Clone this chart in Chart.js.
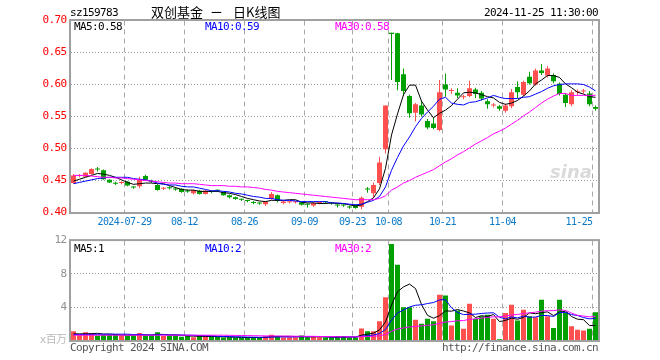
<!DOCTYPE html>
<html>
<head>
<meta charset="utf-8">
<script src="https://cdn.jsdelivr.net/npm/chart.js@4.4.1/dist/chart.umd.min.js"></script>
<style>
  body { margin: 0; background: #fff; }
  #wrap { position: relative; width: 660px; height: 360px; overflow: hidden;
          font-family: "DejaVu Sans Mono", monospace; font-size: 11px; letter-spacing: -0.62px; }
  canvas { position: absolute; left: 0; }
  #kline { top: 0; }
  #vol { top: 230px; }
  .t { position: absolute; white-space: pre; line-height: 12px; }
  .cjk { font-family: 'Noto Sans CJK SC'; font-size: 13px; letter-spacing: 0; line-height: 16px; top: 4px; color: #000; }
</style>
</head>
<body>
<div id="wrap">
  <canvas id="kline" width="660" height="230" style="width:660px;height:230px"></canvas>
  <canvas id="vol" width="660" height="130" style="width:660px;height:130px"></canvas>

  <div class="t" style="left:70px;top:7px;color:#000">sz159783</div>
  <div class="t cjk" style="left:151px">双创基金</div>
  <div class="t cjk" style="left:210px;transform:scaleX(0.8)">一</div>
  <div class="t cjk" style="left:233px">日K线图</div>
  <div class="t" style="right:62px;top:7px;color:#000">2024-11-25 11:30:00</div>

  <div class="t" style="left:74px;top:21px;color:#000">MA5:0.58</div>
  <div class="t" style="left:205px;top:21px;color:#0000ff">MA10:0.59</div>
  <div class="t" style="left:335px;top:21px;color:#ff00ff">MA30:0.58</div>

  <div class="t" style="left:74px;top:243px;color:#000">MA5:1</div>
  <div class="t" style="left:205px;top:243px;color:#0000ff">MA10:2</div>
  <div class="t" style="left:335px;top:243px;color:#ff00ff">MA30:2</div>

  <div class="t" style="left:70px;top:342px;color:#555">Copyright 2024 SINA.COM</div>
  <div class="t" style="right:62px;top:342px;color:#555">http://finance.sina.com.cn</div>

  <div class="t" style="left:550px;top:161px;color:#dadada;font-family:'DejaVu Sans';font-weight:bold;font-style:italic;font-size:18px;letter-spacing:0;line-height:22px">sina</div>
</div>

<script>
// trading days shown (2024)
const dates = ['07-16','07-17','07-18','07-19','07-22','07-23','07-24','07-25','07-26','07-29',
  '07-30','07-31','08-01','08-02','08-05','08-06','08-07','08-08','08-09','08-12',
  '08-13','08-14','08-15','08-16','08-19','08-20','08-21','08-22','08-23','08-26',
  '08-27','08-28','08-29','08-30','09-02','09-03','09-04','09-05','09-06','09-09',
  '09-10','09-11','09-12','09-13','09-18','09-19','09-20','09-23','09-24','09-25',
  '09-26','09-27','09-30','10-08','10-09','10-10','10-11','10-14','10-15','10-16',
  '10-17','10-18','10-21','10-22','10-23','10-24','10-25','10-28','10-29','10-30',
  '10-31','11-01','11-04','11-05','11-06','11-07','11-08','11-11','11-12','11-13',
  '11-14','11-15','11-18','11-19','11-20','11-21','11-22','11-25'];

const tickDates = ['07-29','08-12','08-26','09-09','09-23','10-08','10-21','11-04','11-25'];
const tickText  = ['2024-07-29','08-12','08-26','09-09','09-23','10-08','10-21','11-04','11-25'];

const open = [.446,.457,.456,.460,.468,.466,.451,.446,.446,.448,
  .440,.441,.457,.449,.443,.437,.439,.437,.437,.434,
  .430,.434,.429,.433,.435,.432,.427,.424,.421,.419,
  .416,.415,.413,.422,.427,.415,.416,.416,.416,.413,
  .411,.415,.417,.415,.412,.412,.409,.412,.409,.437,
  .430,.446,.499,.681,.680,.616,.582,.556,.567,.543,
  .539,.529,.600,.590,.587,.580,.582,.592,.587,.574,
  .567,.566,.559,.566,.596,.584,.612,.600,.622,.614,
  .615,.601,.584,.569,.588,.589,.586,.565];
const close = [.458,.458,.462,.468,.467,.452,.447,.445,.447,.442,
  .439,.451,.451,.448,.435,.438,.438,.436,.432,.433,
  .435,.429,.434,.432,.434,.427,.424,.421,.420,.418,
  .415,.414,.417,.429,.418,.417,.417,.417,.412,.412,
  .415,.416,.416,.414,.411,.411,.408,.407,.423,.436,
  .443,.478,.567,.679,.604,.590,.555,.569,.553,.533,
  .532,.588,.592,.591,.583,.581,.594,.585,.578,.569,
  .568,.562,.567,.588,.588,.604,.602,.622,.618,.625,
  .605,.585,.571,.588,.589,.590,.569,.562];
const high = [.460,.460,.463,.469,.471,.467,.452,.448,.449,.449,
  .441,.456,.459,.451,.444,.440,.441,.439,.438,.436,
  .436,.435,.435,.434,.436,.433,.428,.425,.422,.420,
  .418,.416,.418,.432,.428,.418,.418,.418,.417,.414,
  .416,.417,.418,.416,.413,.413,.411,.413,.425,.440,
  .447,.487,.567,.681,.681,.625,.584,.571,.574,.546,
  .549,.607,.617,.594,.594,.584,.606,.595,.590,.577,
  .571,.568,.570,.593,.605,.606,.620,.625,.632,.629,
  .617,.603,.586,.591,.592,.593,.590,.567];
const low = [.445,.455,.455,.459,.464,.451,.446,.443,.444,.441,
  .437,.438,.450,.446,.434,.435,.436,.434,.431,.431,
  .428,.428,.428,.430,.432,.426,.422,.420,.418,.416,
  .413,.412,.410,.420,.416,.413,.414,.414,.411,.408,
  .409,.413,.414,.412,.408,.409,.406,.406,.405,.431,
  .423,.443,.492,.607,.591,.582,.548,.542,.550,.530,
  .530,.527,.581,.585,.579,.577,.580,.579,.575,.562,
  .564,.559,.556,.563,.579,.582,.600,.598,.615,.611,
  .602,.583,.565,.566,.583,.586,.566,.559];

const ma5 = [.449,.452,.455,.458,.461,.460,.458,.455,.451,.447,
  .444,.445,.446,.446,.445,.445,.442,.439,.436,.435,
  .435,.433,.433,.433,.433,.431,.430,.428,.425,.422,
  .420,.418,.417,.419,.419,.419,.420,.420,.416,.415,
  .415,.414,.414,.415,.414,.414,.412,.410,.412,.417,
  .423,.437,.469,.521,.554,.584,.599,.599,.574,.560,
  .548,.555,.560,.567,.577,.587,.588,.587,.584,.581,
  .579,.572,.569,.571,.575,.582,.590,.601,.607,.614,
  .614,.611,.601,.595,.588,.585,.581,.580];
const ma10 = [.445,.447,.449,.451,.453,.454,.455,.455,.455,.455,
  .453,.452,.451,.449,.446,.444,.443,.443,.441,.440,
  .440,.438,.436,.434,.434,.433,.432,.430,.429,.427,
  .425,.424,.422,.422,.420,.419,.419,.418,.417,.417,
  .417,.417,.417,.415,.415,.414,.413,.412,.413,.416,
  .419,.425,.440,.466,.486,.504,.518,.534,.547,.557,
  .566,.577,.580,.571,.569,.568,.572,.573,.576,.579,
  .583,.580,.578,.578,.578,.580,.581,.585,.589,.594,
  .598,.600,.601,.601,.601,.600,.596,.590];
const ma30 = [.458,.458,.458,.457,.456,.455,.455,.454,.454,.453,
  .452,.451,.450,.449,.448,.447,.446,.446,.445,.445,
  .445,.444,.443,.442,.442,.442,.441,.441,.440,.440,
  .439,.438,.436,.435,.433,.432,.431,.430,.429,.428,
  .427,.426,.425,.424,.423,.422,.421,.420,.420,.420,
  .420,.422,.426,.435,.440,.446,.450,.455,.459,.463,
  .467,.473,.479,.484,.490,.495,.501,.507,.512,.517,
  .523,.527,.532,.538,.544,.551,.557,.564,.571,.577,
  .582,.586,.586,.583,.583,.583,.583,.583];

// volume, x百万
const volume = [1.1,0.7,1.0,0.9,0.6,0.65,0.7,0.75,0.6,0.6,
  0.6,0.9,0.6,0.6,1.0,0.55,0.6,0.6,0.45,0.55,
  0.4,0.55,0.45,0.45,0.45,0.35,0.4,0.35,0.35,0.35,
  0.35,0.35,0.5,0.7,0.55,0.35,0.4,0.4,0.6,0.4,
  0.45,0.4,0.35,0.35,0.5,0.5,0.35,0.4,1.45,1.1,
  1.1,2.3,5.2,11.6,9.1,4.0,4.0,2.5,2.0,2.6,
  2.3,5.5,5.4,1.8,3.6,1.4,4.4,2.6,2.9,3.1,
  2.6,0.15,3.3,4.3,2.4,3.7,2.9,2.8,4.9,2.9,
  1.5,4.9,3.4,1.7,1.3,1.2,1.4,3.4];
const vma5 = [.8,.8,.8,.82,.86,.77,.77,.72,.66,.66,
  .65,.69,.66,.66,.74,.73,.67,.67,.64,.55,
  .52,.51,.48,.48,.46,.45,.42,.40,.38,.36,
  .36,.35,.38,.45,.49,.49,.5,.48,.46,.43,
  .45,.45,.44,.39,.41,.42,.41,.42,.64,.76,
  .88,1.27,2.23,4.26,5.86,6.44,6.78,6.24,4.32,3.02,
  2.68,2.98,3.56,3.52,3.72,3.54,3.32,2.76,2.98,2.88,
  3.12,2.27,2.41,2.69,2.55,2.77,3.32,3.22,3.34,3.44,
  3.0,3.4,3.52,2.88,2.56,2.5,1.8,1.8];
const vma10 = [.72,.72,.73,.74,.75,.75,.76,.76,.76,.76,
  .71,.73,.69,.66,.70,.69,.68,.665,.65,.645,
  .625,.59,.575,.56,.505,.485,.465,.44,.43,.41,
  .405,.385,.39,.415,.425,.425,.425,.43,.455,.46,
  .47,.475,.46,.425,.42,.435,.43,.43,.515,.585,
  .65,.84,1.325,2.45,3.31,3.66,4.025,4.235,4.29,4.44,
  4.56,4.88,4.9,3.92,3.37,3.11,3.15,3.16,3.25,3.3,
  3.33,2.795,2.585,2.835,2.715,2.945,2.795,2.815,3.015,2.995,
  2.885,3.36,3.37,3.11,3.0,2.75,2.6,2.66];
const vma30 = [.64,.64,.64,.64,.64,.64,.64,.64,.64,.64,
  .64,.64,.64,.64,.64,.64,.64,.64,.64,.64,
  .64,.64,.64,.64,.64,.64,.62,.61,.60,.59,
  .58,.568,.552,.545,.543,.533,.523,.512,.512,.505,
  .5,.483,.475,.467,.45,.448,.44,.433,.467,.485,
  .508,.567,.725,1.097,1.385,1.507,1.627,1.698,1.753,1.828,
  1.893,2.065,2.228,2.265,2.367,2.402,2.535,2.608,2.685,2.775,
  2.847,2.838,2.937,3.068,3.132,3.238,3.323,3.403,3.518,3.578,
  3.592,3.678,3.618,3.288,3.028,2.935,2.848,2.878];

const UP = '#ff5050', DOWN = '#00a000';
const candleColor = close.map((c, i) => c >= open[i] ? UP : DOWN);
const NONE = 'rgba(0,0,0,0)';
const monoFont = { family: "'DejaVu Sans Mono', 'Noto Sans CJK SC', monospace", size: 10 };

const framePlugin = {
  id: 'frame',
  beforeDatasetsDraw(chart) {
    const a = chart.chartArea, ctx = chart.ctx;
    ctx.save();
    ctx.strokeStyle = '#a0a0a0';
    ctx.lineWidth = 2;
    ctx.strokeRect(a.left - 0.5, a.top - 0.5, a.right - a.left + 1, a.bottom - a.top + 1);
    ctx.restore();
  }
};

function xAxis(showLabels, height) {
  return {
    type: 'category',
    offset: true,
    afterFit: s => { s.height = height; },
    grid: {
      offset: true,
      drawTicks: false,
      color: ctx => tickDates.includes(dates[ctx.index]) ? '#a8a8a8' : NONE
    },
    border: { display: false, dash: [5, 4] },
    ticks: {
      display: showLabels,
      autoSkip: false,
      maxRotation: 0,
      align: 'inner',
      padding: 4,
      labelOffset: -3,
      color: '#0a78c8',
      font: monoFont,
      // empty string keeps every tick (and its grid line slot) in place
      callback: (v, i) => {
        const k = tickDates.indexOf(dates[i]);
        return k >= 0 ? tickText[k] : '';
      }
    }
  };
}

function maLine(label, data, color, order) {
  return { type: 'line', label, data, borderColor: color, borderWidth: 1,
           pointRadius: 0, tension: 0, order };
}

const common = {
  responsive: false,
  animation: false,
  events: [],
  plugins: { legend: { display: false }, tooltip: { enabled: false } }
};

new Chart(document.getElementById('kline').getContext('2d'), {
  type: 'bar',
  data: {
    labels: dates,
    datasets: [
      maLine('MA30', ma30, '#ff00ff', 0),
      maLine('MA10', ma10, '#0000ff', 1),
      maLine('MA5', ma5, '#000000', 2),
      { label: 'body', data: dates.map((d, i) => [open[i], close[i]]),
        backgroundColor: candleColor, barThickness: 5, minBarLength: 1,
        grouped: false, inflateAmount: 0, borderWidth: 0, order: 3 },
      { label: 'wick', data: dates.map((d, i) => [low[i], high[i]]),
        backgroundColor: candleColor, barThickness: 1,
        grouped: false, inflateAmount: 0, borderWidth: 0, order: 4 }
    ]
  },
  options: {
    ...common,
    layout: { padding: { left: 0, right: 61.5, top: 20.5, bottom: 0 } },
    scales: {
      x: xAxis(true, 17.5),
      y: {
        min: 0.40, max: 0.70,
        afterFit: s => { s.width = 70.5; },
        grid: { drawTicks: false,
                color: ctx => (ctx.tick && ctx.tick.value > 0.401 && ctx.tick.value < 0.699) ? '#999' : NONE },
        border: { display: false, dash: [1, 2] },
        ticks: { stepSize: 0.05, padding: 4, color: '#ff0000',
                 font: { family: "'DejaVu Sans Mono', monospace", size: 11 },
                 callback: v => v.toFixed(2) }
      }
    }
  },
  plugins: [framePlugin]
});

new Chart(document.getElementById('vol').getContext('2d'), {
  type: 'bar',
  data: {
    labels: dates,
    datasets: [
      maLine('MA30', vma30, '#ff00ff', 0),
      maLine('MA10', vma10, '#0000ff', 1),
      maLine('MA5', vma5, '#000000', 2),
      { label: 'volume', data: volume, backgroundColor: candleColor,
        barThickness: 5, grouped: false, inflateAmount: 0, borderWidth: 0, order: 3 }
    ]
  },
  options: {
    ...common,
    layout: { padding: { left: 0, right: 61.5, top: 10.5, bottom: 19.5 } },
    scales: {
      x: xAxis(false, 0),
      y: {
        min: 0, max: 12,
        afterFit: s => { s.width = 70.5; },
        grid: { drawTicks: false,
                color: ctx => (ctx.tick && ctx.tick.value > 0 && ctx.tick.value < 12) ? '#999' : NONE },
        border: { display: false, dash: [1, 2] },
        ticks: { stepSize: 4, padding: 4,
                 color: ctx => ctx.tick && ctx.tick.value === 0 ? '#b8b8b8' : '#909090',
                 font: { family: "'DejaVu Sans Mono', 'Noto Sans CJK SC', monospace", size: 11 },
                 callback: v => v === 0 ? 'x百万' : String(v) }
      }
    }
  },
  plugins: [framePlugin]
});
</script>
</body>
</html>
